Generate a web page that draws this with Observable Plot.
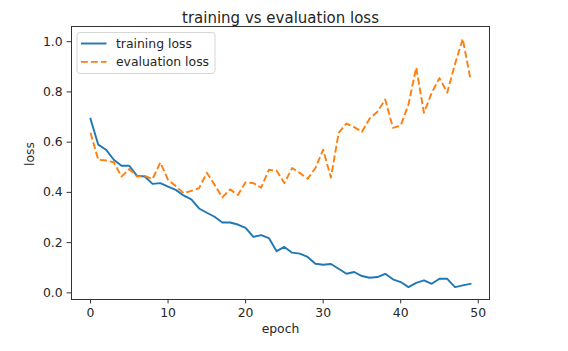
<!DOCTYPE html>
<html>
<head>
<meta charset="utf-8">
<script src="https://cdn.jsdelivr.net/npm/d3@7"></script>
<script src="https://cdn.jsdelivr.net/npm/@observablehq/plot@0.6"></script>
<style>
  html, body { margin: 0; padding: 0; background: white; }
  #wrap { position: relative; width: 568px; height: 351px; font-family: "DejaVu Sans", sans-serif; }
  #legend { position: absolute; left: 0; top: 0; pointer-events: none; }
</style>
</head>
<body>
<div id="wrap"></div>
<script>
const title = "training vs evaluation loss";
const xLabel = "epoch";
const yLabel = "loss";
const seriesNames = ["training loss", "evaluation loss"];
const seriesColors = ["#1f77b4", "#ff7f0e"];

const epochs = [0,1,2,3,4,5,6,7,8,9,10,11,12,13,14,15,16,17,18,19,20,21,22,23,24,25,26,27,28,29,30,31,32,33,34,35,36,37,38,39,40,41,42,43,44,45,46,47,48,49];

const trainingLoss = [0.693,0.590,0.570,0.530,0.506,0.506,0.466,0.463,0.434,0.437,
  0.423,0.410,0.388,0.372,0.336,0.319,0.303,0.280,0.280,0.272,
  0.259,0.223,0.230,0.218,0.166,0.183,0.160,0.156,0.143,0.116,
  0.112,0.115,0.096,0.076,0.083,0.067,0.060,0.063,0.076,0.054,
  0.043,0.023,0.040,0.050,0.036,0.056,0.056,0.023,0.030,0.036];

const evaluationLoss = [0.637,0.530,0.527,0.520,0.463,0.493,0.463,0.466,0.453,0.519,
  0.450,0.425,0.397,0.406,0.417,0.478,0.430,0.380,0.412,0.390,
  0.440,0.437,0.419,0.490,0.486,0.437,0.497,0.477,0.454,0.497,
  0.570,0.459,0.637,0.674,0.660,0.641,0.694,0.721,0.770,0.657,
  0.666,0.750,0.897,0.717,0.797,0.855,0.797,0.911,1.011,0.850];

const xTicks = [0,10,20,30,40,50];
const yTicks = [0.0,0.2,0.4,0.6,0.8,1.0];

// table for the library
const trainRows = epochs.map((e, i) => ({epoch: e, loss: trainingLoss[i]}));
const evalRows = epochs.map((e, i) => ({epoch: e, loss: evaluationLoss[i]}));

// matplotlib-style 5% margins
const [xa, xb] = d3.extent(epochs);
const xp = (xb - xa) * 0.05;
const [ya, yb] = d3.extent(trainingLoss.concat(evaluationLoss));
const yp = (yb - ya) * 0.05;

const textColor = "#262626";

const chart = Plot.plot({
  width: 568,
  height: 351,
  marginLeft: 71,
  marginRight: 79,
  marginTop: 26,
  marginBottom: 52,
  style: {
    fontFamily: "DejaVu Sans, sans-serif",
    fontSize: "12.4px",
    color: textColor,
    background: "white",
    overflow: "visible"
  },
  x: {domain: [xa - xp, xb + xp]},
  y: {domain: [ya - yp, yb + yp]},
  marks: [
    Plot.line(trainRows, {x: "epoch", y: "loss", stroke: seriesColors[0], strokeWidth: 1.9, strokeLinejoin: "round", strokeLinecap: "square"}),
    Plot.line(evalRows, {x: "epoch", y: "loss", stroke: seriesColors[1], strokeWidth: 1.9, strokeDasharray: "6.9,3", strokeLinejoin: "round", strokeLinecap: "butt"}),
    Plot.axisX({ticks: xTicks, tickSize: 4.4, tickPadding: 4.4, label: null, stroke: "#333", strokeWidth: 1, fill: textColor, fontSize: 12.4}),
    Plot.axisY({ticks: yTicks, tickFormat: d3.format(".1f"), tickSize: 4.4, tickPadding: 4.4, label: null, stroke: "#333", strokeWidth: 1, fill: textColor, fontSize: 12.4}),
    Plot.frame({stroke: "#333", strokeWidth: 1}),
    Plot.text([xLabel], {frameAnchor: "bottom", dy: 33, fill: textColor, fontSize: 12.4}),
    Plot.text([yLabel], {frameAnchor: "left", dx: -41, dy: 3, rotate: -90, fill: textColor, fontSize: 12.4}),
    Plot.text([title], {frameAnchor: "top", dy: -14, fill: textColor, fontSize: 15})
  ]
});

const wrap = document.getElementById("wrap");
wrap.appendChild(chart);

// legend overlay (matplotlib style, upper left)
const ns = "http://www.w3.org/2000/svg";
const lg = document.createElementNS(ns, "svg");
lg.setAttribute("id", "legend");
lg.setAttribute("width", 568);
lg.setAttribute("height", 351);
const box = document.createElementNS(ns, "rect");
box.setAttribute("x", 77); box.setAttribute("y", 32.5);
box.setAttribute("width", 138); box.setAttribute("height", 41);
box.setAttribute("rx", 3);
box.setAttribute("fill", "rgba(255,255,255,0.8)");
box.setAttribute("stroke", "#d6d6d6");
box.setAttribute("stroke-width", 1);
lg.appendChild(box);
seriesNames.forEach((name, i) => {
  const cy = 43.5 + i * 18.4;
  const ln = document.createElementNS(ns, "line");
  ln.setAttribute("x1", 81); ln.setAttribute("x2", 106.5);
  ln.setAttribute("y1", cy); ln.setAttribute("y2", cy);
  ln.setAttribute("stroke", seriesColors[i]);
  ln.setAttribute("stroke-width", 1.9);
  if (i === 1) ln.setAttribute("stroke-dasharray", "6.9,3");
  lg.appendChild(ln);
  const tx = document.createElementNS(ns, "text");
  tx.setAttribute("x", 116); tx.setAttribute("y", cy);
  tx.setAttribute("dy", "0.35em");
  tx.setAttribute("font-family", "DejaVu Sans, sans-serif");
  tx.setAttribute("font-size", "12.4px");
  tx.setAttribute("fill", textColor);
  tx.textContent = name;
  lg.appendChild(tx);
});
wrap.appendChild(lg);
</script>
</body>
</html>
